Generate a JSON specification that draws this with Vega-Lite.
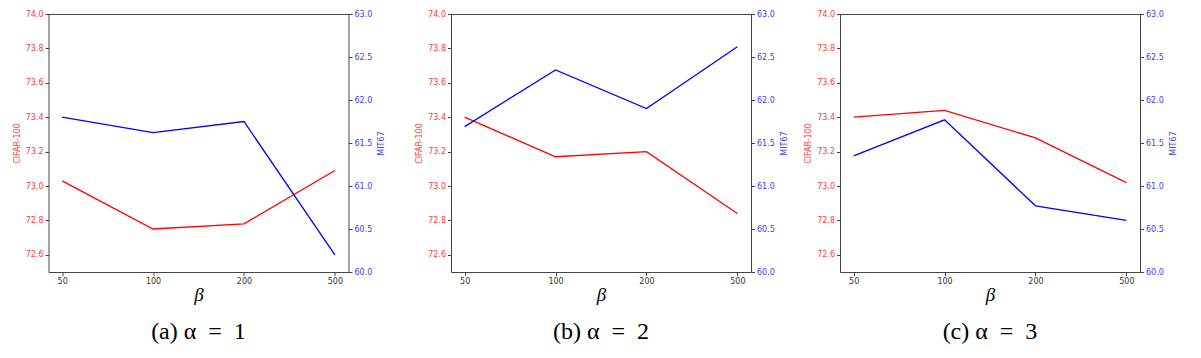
{
  "$schema": "https://vega.github.io/schema/vega-lite/v6.json",
  "padding": {"left": 12.5, "top": 9, "right": 0, "bottom": 0},
  "background": "white",
  "datasets": {
    "d": [
      {"alpha": 1, "beta": 50, "cifar": 73.03, "mit": 61.80},
      {"alpha": 1, "beta": 100, "cifar": 72.75, "mit": 61.62},
      {"alpha": 1, "beta": 200, "cifar": 72.78, "mit": 61.75},
      {"alpha": 1, "beta": 500, "cifar": 73.09, "mit": 60.20},
      {"alpha": 2, "beta": 50, "cifar": 73.40, "mit": 61.69},
      {"alpha": 2, "beta": 100, "cifar": 73.17, "mit": 62.35},
      {"alpha": 2, "beta": 200, "cifar": 73.20, "mit": 61.90},
      {"alpha": 2, "beta": 500, "cifar": 72.84, "mit": 62.62},
      {"alpha": 3, "beta": 50, "cifar": 73.40, "mit": 61.35},
      {"alpha": 3, "beta": 100, "cifar": 73.44, "mit": 61.77},
      {"alpha": 3, "beta": 200, "cifar": 73.28, "mit": 60.77},
      {"alpha": 3, "beta": 500, "cifar": 73.02, "mit": 60.60}
    ]
  },
  "spacing": 28.5,
  "hconcat": [
    {
      "data": {"name": "d"},
      "transform": [{"filter": "datum.alpha == 1"}],
      "width": 300, "height": 258,
      "title": {"text": "(a) α\u2002=\u20021"},
      "resolve": {"scale": {"y": "independent"}},
      "layer": [
        {
          "mark": {"type": "line", "color": "#ff0000"},
          "encoding": {
            "x": {"field": "beta", "type": "ordinal", "sort": [50, 100, 200, 500], "scale": {"type": "point", "padding": 0.15}, "axis": {"title": "β", "labelAngle": 0}},
            "y": {"field": "cifar", "type": "quantitative", "scale": {"domain": [72.5, 74.0], "nice": false, "zero": false}, "axis": {"title": "CIFAR-100", "orient": "left", "values": [72.6, 72.8, 73.0, 73.2, 73.4, 73.6, 73.8, 74.0], "format": ".1f", "labelColor": "#ff3b3b", "titleColor": "#ff3b3b"}}
          }
        },
        {
          "mark": {"type": "line", "color": "#0000ff"},
          "encoding": {
            "x": {"field": "beta", "type": "ordinal", "sort": [50, 100, 200, 500]},
            "y": {"field": "mit", "type": "quantitative", "scale": {"domain": [60, 63], "nice": false, "zero": false}, "axis": {"title": "MIT67", "orient": "right", "titleAngle": 270, "titleBaseline": "top", "titlePadding": 6, "values": [60, 60.5, 61, 61.5, 62, 62.5, 63], "format": ".1f", "labelColor": "#3b3bff", "titleColor": "#3b3bff"}}
          }
        }
      ]
    },
    {
      "spacing": 15,
      "hconcat": [
        {
          "data": {"name": "d"},
          "transform": [{"filter": "datum.alpha == 2"}],
          "width": 300, "height": 258,
          "title": {"text": "(b) α\u2002=\u20022"},
          "resolve": {"scale": {"y": "independent"}},
          "layer": [
            {
              "mark": {"type": "line", "color": "#ff0000"},
              "encoding": {
                "x": {"field": "beta", "type": "ordinal", "sort": [50, 100, 200, 500], "scale": {"type": "point", "padding": 0.15}, "axis": {"title": "β", "labelAngle": 0}},
                "y": {"field": "cifar", "type": "quantitative", "scale": {"domain": [72.5, 74.0], "nice": false, "zero": false}, "axis": {"title": "CIFAR-100", "orient": "left", "values": [72.6, 72.8, 73.0, 73.2, 73.4, 73.6, 73.8, 74.0], "format": ".1f", "labelColor": "#ff3b3b", "titleColor": "#ff3b3b"}}
              }
            },
            {
              "mark": {"type": "line", "color": "#0000ff"},
              "encoding": {
                "x": {"field": "beta", "type": "ordinal", "sort": [50, 100, 200, 500]},
                "y": {"field": "mit", "type": "quantitative", "scale": {"domain": [60, 63], "nice": false, "zero": false}, "axis": {"title": "MIT67", "orient": "right", "titleAngle": 270, "titleBaseline": "top", "titlePadding": 6, "values": [60, 60.5, 61, 61.5, 62, 62.5, 63], "format": ".1f", "labelColor": "#3b3bff", "titleColor": "#3b3bff"}}
              }
            }
          ]
        },
        {
          "data": {"name": "d"},
          "transform": [{"filter": "datum.alpha == 3"}],
          "width": 300, "height": 258,
          "title": {"text": "(c) α\u2002=\u20023"},
          "resolve": {"scale": {"y": "independent"}},
          "layer": [
            {
              "mark": {"type": "line", "color": "#ff0000"},
              "encoding": {
                "x": {"field": "beta", "type": "ordinal", "sort": [50, 100, 200, 500], "scale": {"type": "point", "padding": 0.15}, "axis": {"title": "β", "labelAngle": 0}},
                "y": {"field": "cifar", "type": "quantitative", "scale": {"domain": [72.5, 74.0], "nice": false, "zero": false}, "axis": {"title": "CIFAR-100", "orient": "left", "values": [72.6, 72.8, 73.0, 73.2, 73.4, 73.6, 73.8, 74.0], "format": ".1f", "labelColor": "#ff3b3b", "titleColor": "#ff3b3b"}}
              }
            },
            {
              "mark": {"type": "line", "color": "#0000ff"},
              "encoding": {
                "x": {"field": "beta", "type": "ordinal", "sort": [50, 100, 200, 500]},
                "y": {"field": "mit", "type": "quantitative", "scale": {"domain": [60, 63], "nice": false, "zero": false}, "axis": {"title": "MIT67", "orient": "right", "titleAngle": 270, "titleBaseline": "top", "titlePadding": 6, "values": [60, 60.5, 61, 61.5, 62, 62.5, 63], "format": ".1f", "labelColor": "#3b3bff", "titleColor": "#3b3bff"}}
              }
            }
          ]
        }
      ]
    }
  ],
  "config": {
    "view": {"stroke": "#444444", "strokeWidth": 1},
    "line": {"strokeWidth": 1.3},
    "axis": {
      "labelFont": "DejaVu Sans", "labelFontSize": 8, "labelColor": "#333333",
      "titleFont": "DejaVu Sans", "titleFontSize": 8, "titleFontWeight": "normal",
      "grid": false, "domain": false, "tickColor": "#444444", "tickSize": 3.5, "labelPadding": 2, "titlePadding": 4
    },
    "axisX": {"titleFont": "Liberation Serif", "titleFontSize": 19, "titleFontStyle": "italic", "titleColor": "#000000", "titlePadding": 0, "labelColor": "#333333"},
    "title": {"font": "Liberation Serif", "fontSize": 24, "fontWeight": "normal", "color": "#000000", "orient": "bottom", "offset": 15, "anchor": "middle"}
  }
}
